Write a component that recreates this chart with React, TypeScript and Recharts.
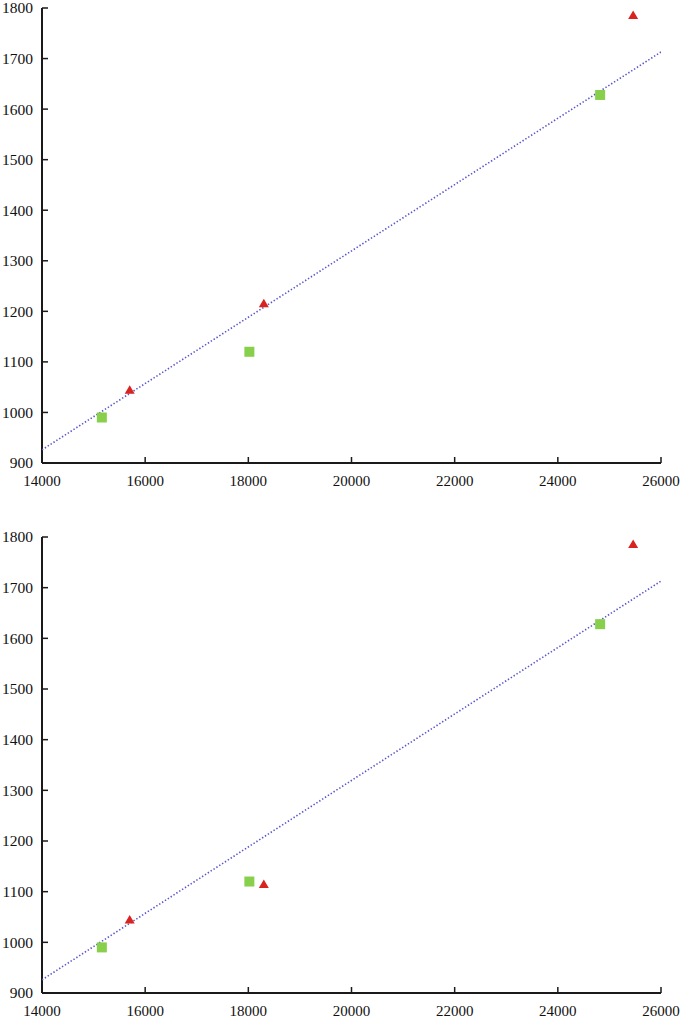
import React from 'react';
import { ScatterChart, Scatter, XAxis, YAxis } from 'recharts';

const xTicks = [14000, 16000, 18000, 20000, 22000, 24000, 26000];
const yTicks = [900, 1000, 1100, 1200, 1300, 1400, 1500, 1600, 1700, 1800];

const greenPoints = [
  { x: 15160, y: 990 },
  { x: 18020, y: 1120 },
  { x: 24820, y: 1628 },
];
const redPointsTop = [
  { x: 15700, y: 1045 },
  { x: 18300, y: 1216 },
  { x: 25460, y: 1786 },
];
const redPointsBottom = [
  { x: 15700, y: 1045 },
  { x: 18300, y: 1115 },
  { x: 25460, y: 1786 },
];
const fitLine = [
  { x: 14000, y: 926 },
  { x: 26000, y: 1713 },
];

const FONT = "'Liberation Serif', 'Times New Roman', serif";
const AXIS = '#1a1a1a';

const BottomTick = (props: any) => {
  const { x, y, payload } = props;
  return (
    <g>
      <line x1={x} y1={y} x2={x} y2={y - 6} stroke={AXIS} strokeWidth={1.5} />
      <text x={x} y={y + 18} dy="0.35em" textAnchor="middle" fontFamily={FONT} fontSize={15} fill="#111">
        {payload.value}
      </text>
    </g>
  );
};
const LeftTick = (props: any) => {
  const { x, y, payload } = props;
  return (
    <g>
      <line x1={x} y1={y} x2={x + 6} y2={y} stroke={AXIS} strokeWidth={1.5} />
      <text x={x - 9} y={y} dy="0.35em" textAnchor="end" fontFamily={FONT} fontSize={15.5} fill="#111">
        {payload.value}
      </text>
    </g>
  );
};
const TopTick = (props: any) => {
  const { x, y } = props;
  return <line x1={x} y1={y} x2={x} y2={y + 6} stroke={AXIS} strokeWidth={1.5} />;
};
const RightTick = (props: any) => {
  const { x, y } = props;
  return <line x1={x} y1={y} x2={x - 6} y2={y} stroke={AXIS} strokeWidth={1.5} />;
};

const Square = (props: any) => {
  const { cx, cy } = props;
  if (cx == null || cy == null) return null;
  return <rect x={cx - 5} y={cy - 5} width={10} height={10} fill="#88d04b" />;
};
const Triangle = (props: any) => {
  const { cx, cy } = props;
  if (cx == null || cy == null) return null;
  return <polygon points={`${cx - 5},${cy + 4} ${cx + 5},${cy + 4} ${cx},${cy - 4.5}`} fill="#d8231f" />;
};
const NoDot = () => null;

const Panel = ({ red, top, height }: { red: { x: number; y: number }[]; top: number; height: number }) => (
  <ScatterChart width={685} height={height} margin={{ top, right: 24, left: 0, bottom: 0 }}>
    <XAxis
      type="number"
      dataKey="x"
      domain={[14000, 26000]}
      ticks={xTicks}
      height={25}
      tickSize={0}
      tickMargin={0}
      tickLine={false}
      axisLine={{ stroke: AXIS, strokeWidth: 2 }}
      tick={<BottomTick />}
      interval={0}
      allowDataOverflow
    />
    <XAxis
      xAxisId="top"
      orientation="top"
      type="number"
      dataKey="x"
      domain={[14000, 26000]}
      ticks={xTicks}
      height={0}
      tickSize={0}
      tickMargin={0}
      tickLine={false}
      axisLine={{ stroke: AXIS, strokeWidth: 2 }}
      tick={<TopTick />}
      interval={0}
      allowDataOverflow
    />
    <YAxis
      type="number"
      dataKey="y"
      domain={[900, 1800]}
      ticks={yTicks}
      width={42}
      tickSize={0}
      tickMargin={0}
      tickLine={false}
      axisLine={{ stroke: AXIS, strokeWidth: 2 }}
      tick={<LeftTick />}
      interval={0}
      allowDataOverflow
    />
    <YAxis
      yAxisId="right"
      orientation="right"
      type="number"
      dataKey="y"
      domain={[900, 1800]}
      ticks={yTicks}
      width={0}
      tickSize={0}
      tickMargin={0}
      tickLine={false}
      axisLine={{ stroke: AXIS, strokeWidth: 2 }}
      tick={<RightTick />}
      interval={0}
      allowDataOverflow
    />
    <Scatter
      data={fitLine}
      line={{ stroke: '#5a55cc', strokeWidth: 1.6, strokeDasharray: '1.4 2' }}
      shape={<NoDot />}
      isAnimationActive={false}
    />
    <Scatter xAxisId="top" yAxisId="right" data={fitLine} shape={<NoDot />} isAnimationActive={false} />
    <Scatter data={greenPoints} shape={<Square />} isAnimationActive={false} />
    <Scatter data={red} shape={<Triangle />} isAnimationActive={false} />
  </ScatterChart>
);

export default function App() {
  return (
    <div style={{ position: 'absolute', left: 0, top: 0, width: 685, height: 1018, background: '#fff', overflow: 'hidden' }}>
      <Panel red={redPointsTop} top={8} height={488} />
      <Panel red={redPointsBottom} top={49} height={530} />
    </div>
  );
}
